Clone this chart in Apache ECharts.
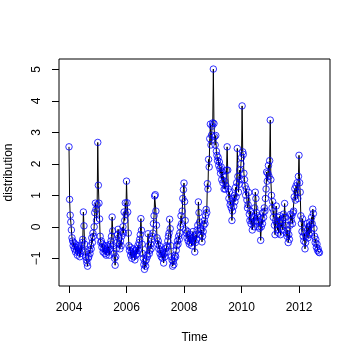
<!DOCTYPE html>
<html>
<head>
<meta charset="utf-8">
<script src="https://cdn.jsdelivr.net/npm/echarts@6/dist/echarts.min.js"></script>
<style>html,body{margin:0;padding:0;background:#fff}#c{width:360px;height:360px}</style>
</head>
<body>
<div id="c"></div>
<script>
// weekly-ish readings, 48 per year (value k sits at year + k/48)
const v2004 = [2.54,0.87,0.37,0.15, -0.10,-0.35,-0.45,-0.60, -0.50,-0.70,-0.55,-0.80, -0.65,-0.75,-0.90,-0.60,
               -0.80,-0.70,-0.95,-0.85, -0.60,-0.75,-0.50,-0.40, 0.47,0.03,-0.55,-0.80, -0.95,-1.05,-1.15,-1.25,
               -1.00,-0.95,-0.75,-0.85, -0.60,-0.70,-0.35,-0.50, -0.20,-0.30,0.00,0.45, 0.75,0.55,0.20,0.70];
const v2005 = [2.68,1.32,0.75,0.25, -0.30,-0.50,-0.45,-0.65, -0.55,-0.80,-0.70,-0.60, -0.85,-0.75,-0.90,-0.70,
               -0.60,-0.80,-0.65,-0.90, -0.70,-0.55,-0.45,-0.30, 0.31,-0.13,-0.60,-0.85, -1.00,-1.22,-0.95,-0.70,
               -0.50,-0.25,-0.08,-0.35, -0.55,-0.70,-0.45,-0.60, -0.30,-0.15,0.00,-0.20, 0.47,0.20,0.76,0.40];
const v2006 = [1.45,0.76,0.47,-0.20, -0.60,-0.75,-0.65,-0.90, -0.80,-1.00,-0.85,-0.70, -0.95,-0.80,-1.05,-0.75,
               -0.90,-0.70,-0.85,-0.60, -0.75,-0.50,-0.40,-0.25, 0.26,-0.11,-0.55,-0.85, -1.00,-1.20,-1.35,-1.10,
               -1.25,-1.05,-0.90,-0.95, -0.22,-0.60,-0.85,-0.75, -0.55,-0.70,-0.40,-0.30, -0.20,0.10,0.35,0.98];
const v2007 = [1.02,0.50,0.05,-0.35, -0.55,-0.45,-0.70,-0.60, -0.85,-0.75,-0.95,-0.80, -1.00,-0.90,-1.15,-0.85,
               -0.95,-0.70,-0.80,-0.60, -0.65,-0.45,-0.30,-0.20, 0.24,-0.06,-0.60,-0.95, -1.05,-1.25,-1.10,-1.20,
               -1.00,-0.90,-0.95,-0.75, -0.60,-0.45,-0.55,-0.30, -0.40,-0.20,0.00,0.35, 0.10,0.50,0.90,1.18];
const v2008 = [1.39,0.80,0.20,-0.10, -0.20,-0.35,-0.15,-0.45, -0.30,-0.55,-0.25,-0.50, -0.40,-0.60,-0.35,-0.15,
               -0.45,-0.30,-0.80,-0.50, -0.25,-0.40,-0.10,0.05, 0.79,0.45,0.15,-0.05, -0.25,-0.10,-0.48,-0.30,
               -0.15,0.05,0.20,0.10, 0.35,0.55,0.45,1.37, 1.20,2.14,1.90,2.80, 3.26,2.60,2.91,3.20];
const v2009 = [3.30,5.01,3.28,2.86, 2.60,2.90,2.40,2.27, 2.10,2.20,1.95,2.06, 1.85,1.70,1.90,1.50,
               1.75,1.40,1.60,1.20, 1.45,1.20,1.30,1.80, 2.54,1.80,1.20,0.90, 1.10,0.70,0.80,0.60,
               0.20,0.50,0.90,0.65, 1.00,0.80,1.25,0.95, 1.40,2.49,1.60,1.10, 1.35,1.80,1.50,2.00];
const v2010 = [2.20,3.84,2.38,2.30, 1.70,1.50,1.30,1.00, 1.20,0.85,0.60,0.70, 1.09,0.40,0.20,0.50,
               0.10,0.25,-0.10,0.15, 0.30,0.00,0.60,1.10, 0.90,0.45,0.20,0.35, 0.30,0.00,-0.05,0.15,
               -0.43,0.00,0.25,0.10, 0.45,0.30,0.60,0.50, 0.90,1.20,1.74,1.45, 1.70,1.95,1.60,2.10];
const v2011 = [3.39,1.50,1.00,0.60, 0.80,0.30,0.50,0.05, -0.25,0.20,0.66,0.10, -0.10,0.30,-0.20,0.15,
               0.35,-0.25,0.10,0.00, 0.20,-0.10,0.40,0.30, 0.74,0.30,0.05,-0.20, -0.30,-0.10,-0.50,-0.25,
               -0.40,0.05,0.40,0.20, 0.35,0.10,0.45,0.50, 0.95,1.21,0.85,1.30, 1.10,1.40,0.90,1.60];
const v2012 = [2.27,1.40,1.10,0.35, 0.10,-0.15,0.25,-0.30, -0.45,-0.20,-0.70,-0.50, -0.30,0.10,-0.10,-0.35,
               0.00,-0.25,0.15,0.05, -0.20,0.30,0.10,0.56, 0.42,-0.05,-0.30,-0.50, -0.40,-0.65,-0.55,-0.75,
               -0.70,-0.80,-0.82];
const years = [2004,2005,2006,2007,2008,2009,2010,2011,2012];
const xTicks = [2004,2006,2008,2010,2012];
const yTicks = [-1,0,1,2,3,4,5];

const byYear = [v2004,v2005,v2006,v2007,v2008,v2009,v2010,v2011,v2012];
const pts = [];
years.forEach((y, i) => byYear[i].forEach((v, k) => pts.push([y + k / 48, v])));

const font = 'Liberation Sans, Arial, sans-serif';
const minus = v => String(v).replace('-', '\u2212');
const chart = echarts.init(document.getElementById('c'), null, {renderer: 'canvas'});
chart.setOption({
  animation: false,
  backgroundColor: '#fff',
  grid: {left: 59, top: 59, right: 30, bottom: 74, containLabel: false, outerBoundsMode: 'none',
         show: true, borderColor: '#000', borderWidth: 1, backgroundColor: 'transparent'},
  xAxis: {
    type: 'value', min: 2003.652, max: 2013.078,
    axisLine: {show: false, onZero: false}, splitLine: {show: false},
    axisTick: {show: true, customValues: xTicks, length: 7, lineStyle: {color: '#000'}},
    axisLabel: {customValues: xTicks, margin: 16, color: '#000', fontSize: 12, fontFamily: font, formatter: v => String(v)},
    name: 'Time', nameLocation: 'middle', nameGap: 46,
    nameTextStyle: {color: '#000', fontSize: 12, fontFamily: font}
  },
  yAxis: {
    type: 'value', min: -1.88, max: 5.33,
    axisLine: {show: false, onZero: false}, splitLine: {show: false},
    axisTick: {show: true, customValues: yTicks, length: 7, lineStyle: {color: '#000'}},
    axisLabel: {customValues: yTicks, margin: 16, rotate: 90, color: '#000', fontSize: 12, fontFamily: font, formatter: minus},
    name: 'distribution', nameLocation: 'middle', nameGap: 44, nameRotate: 90,
    nameTextStyle: {color: '#000', fontSize: 12, fontFamily: font}
  },
  series: [
    {type: 'line', data: pts, showSymbol: false, lineStyle: {color: '#000', width: 1}, emphasis: {disabled: true}, z: 2},
    {type: 'scatter', data: pts, symbol: 'circle', symbolSize: 6.5,
     itemStyle: {color: 'rgba(0,0,0,0)', borderColor: '#0000ff', borderWidth: 1}, emphasis: {disabled: true}, z: 3}
  ]
});
</script>
</body>
</html>
